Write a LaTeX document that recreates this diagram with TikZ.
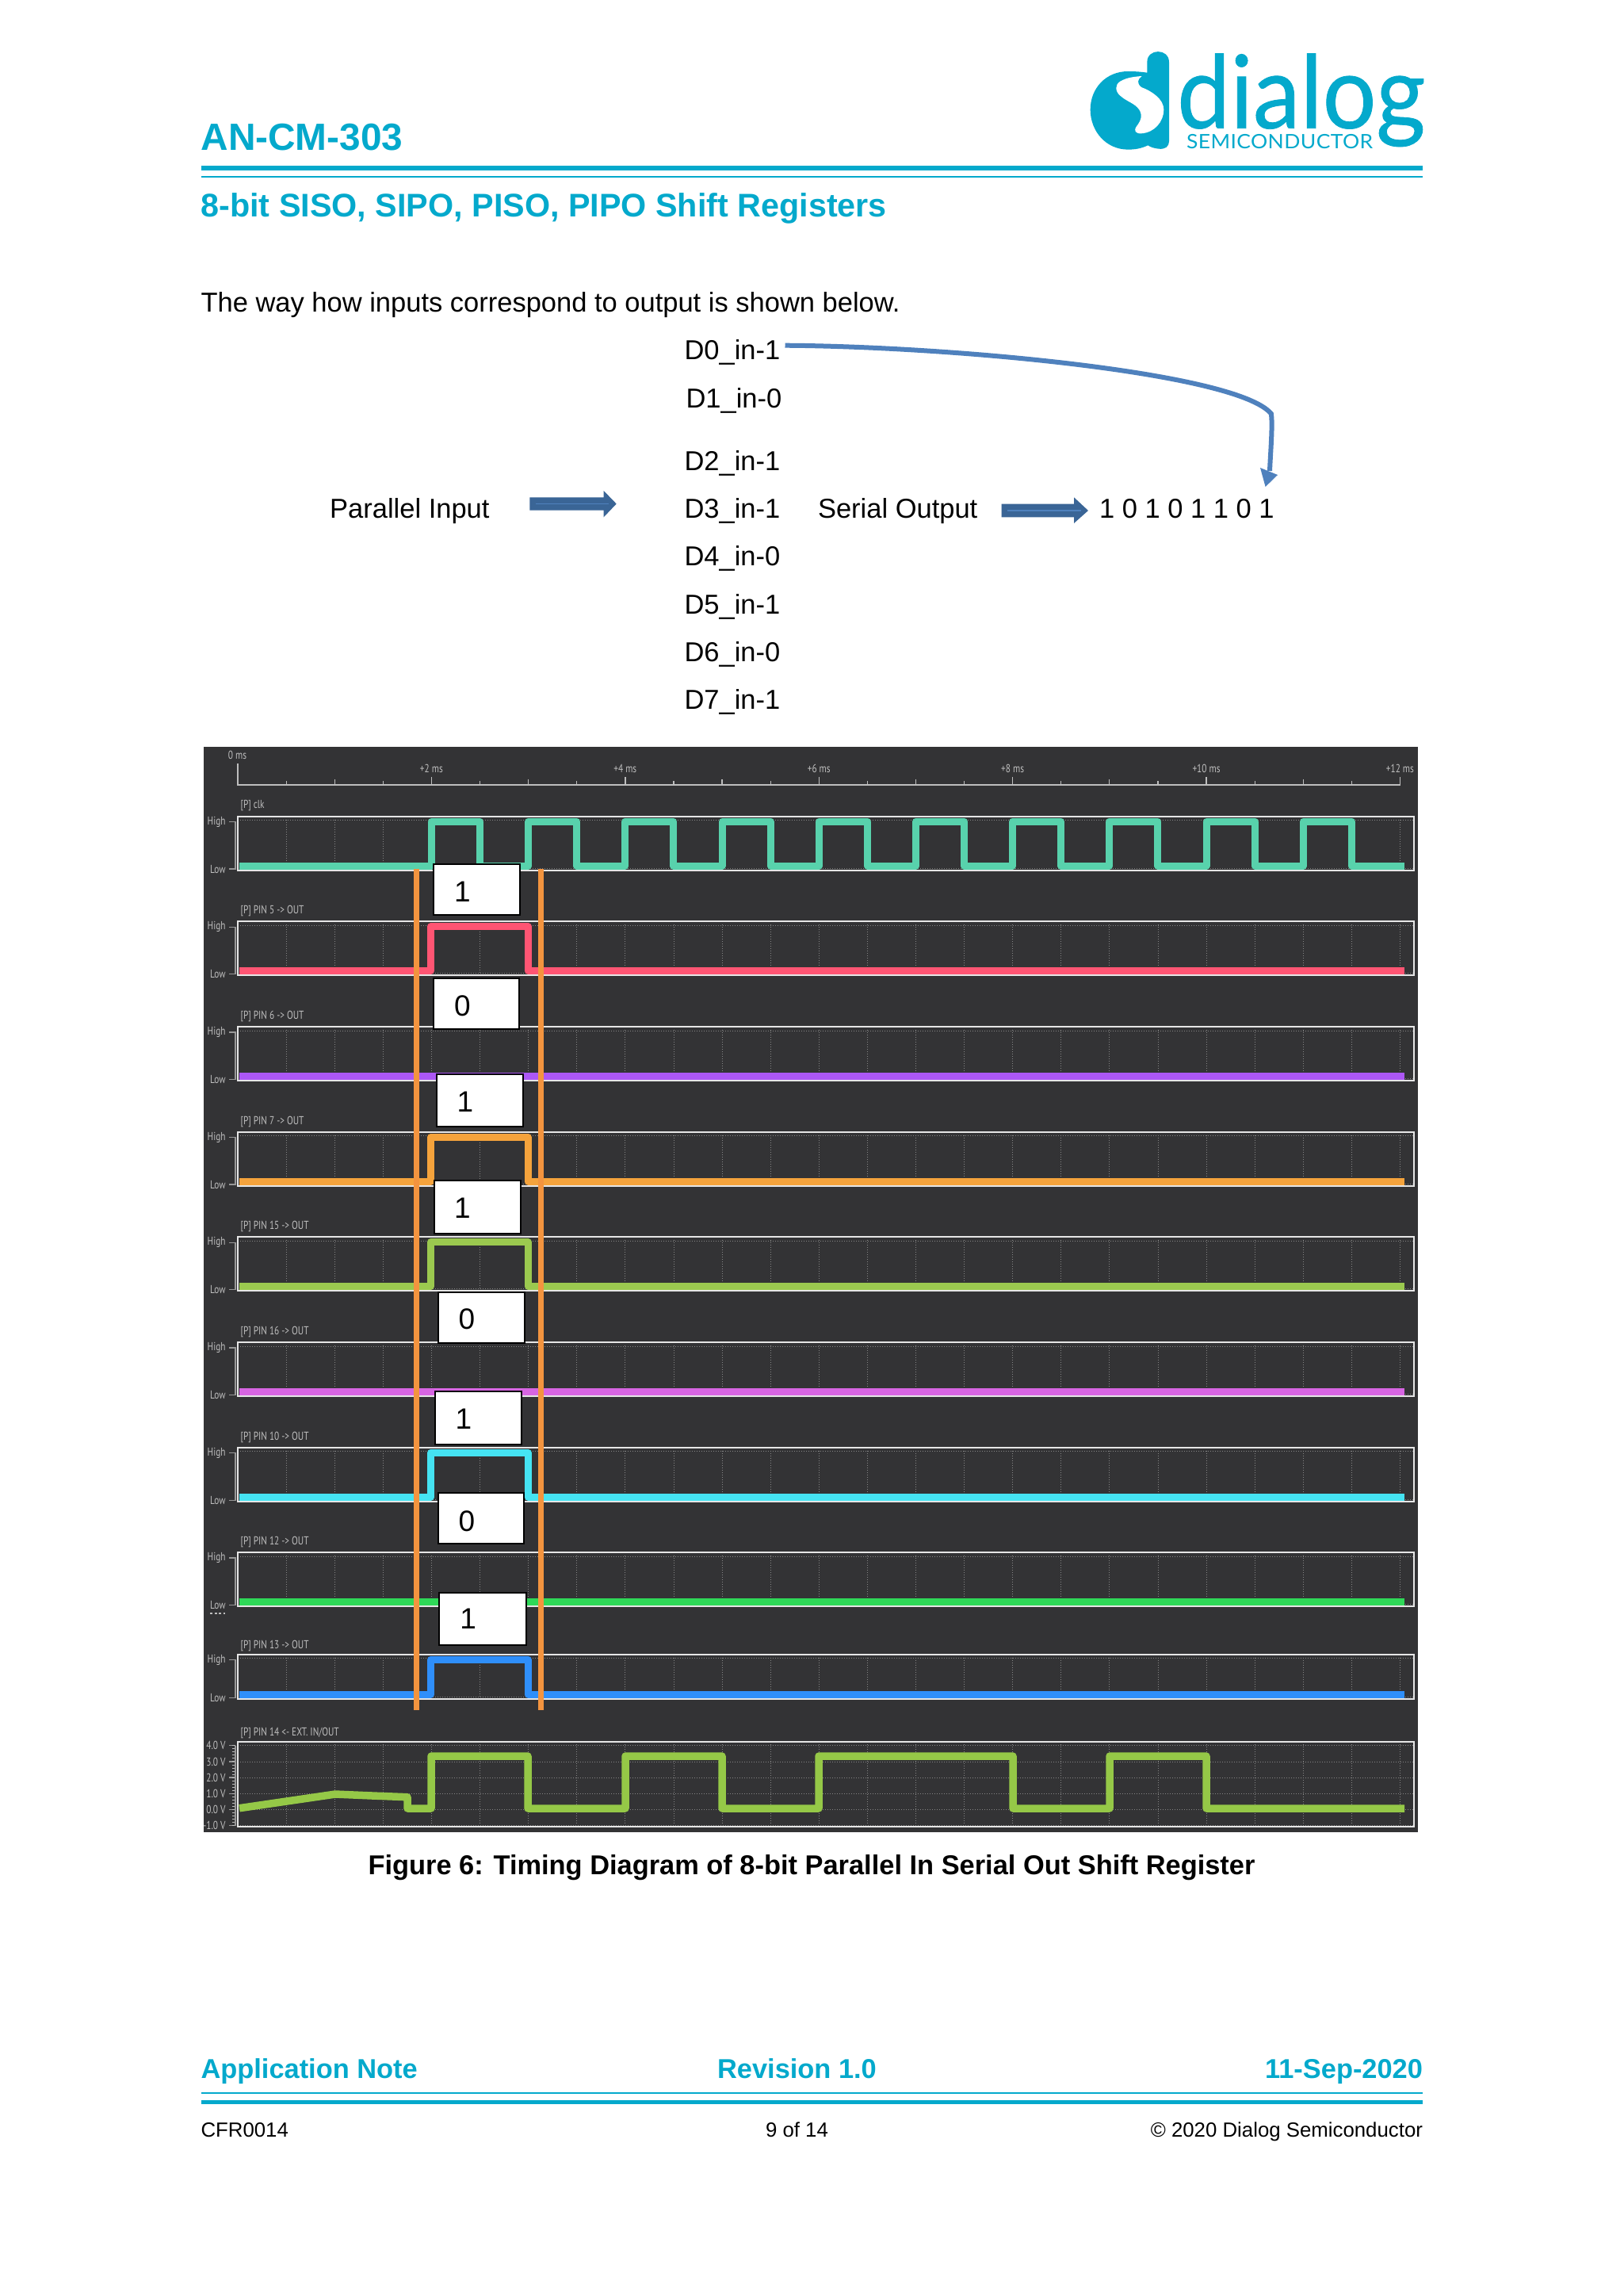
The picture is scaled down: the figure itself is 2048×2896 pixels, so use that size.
\documentclass[tikz,border=0pt]{standalone}
\usepackage{fontspec}
\setmainfont{Liberation Sans}
\newfontfamily\scopefont[FakeStretch=0.78]{PT Sans}
\newfontfamily\logofont[FakeStretch=0.935,FakeBold=0.6]{Lato}
\newfontfamily\logosmall[FakeStretch=1.06,LetterSpace=1.5]{Lato}
\newcommand\pxsize[1]{\fontsize{#1pt}{#1pt}\selectfont}
\definecolor{brand}{HTML}{04A9CC}
\definecolor{panelbg}{HTML}{333335}
\definecolor{labelgrey}{HTML}{BEBEBE}
\definecolor{framegrey}{HTML}{E6E6E6}
\definecolor{dotgrey}{HTML}{858585}
\definecolor{cClk}{HTML}{58D2AC}
\definecolor{cRed}{HTML}{FF5573}
\definecolor{cPurple}{HTML}{AC57F5}
\definecolor{cOrange}{HTML}{F5A33C}
\definecolor{cOlive}{HTML}{9BC94F}
\definecolor{cMagenta}{HTML}{D765E2}
\definecolor{cCyan}{HTML}{45E3F2}
\definecolor{cGreen}{HTML}{2FD858}
\definecolor{cBlue}{HTML}{2F8FFA}
\definecolor{cLime}{HTML}{95C847}
\definecolor{cursor}{HTML}{F3943F}
\definecolor{blockarrow}{HTML}{3A6596}
\definecolor{arrowblue}{HTML}{4F81BD}
\tikzset{
  x=1pt,y=-1pt,
  txt/.style={inner sep=0pt,outer sep=0pt,anchor=base west,text=black,font=\pxsize{34.5}},
  head/.style={inner sep=0pt,outer sep=0pt,anchor=base west,text=brand,font=\pxsize{34.4}\bfseries},
  small/.style={inner sep=0pt,outer sep=0pt,text=black,font=\pxsize{25.8}},
  scopetxt/.style={inner sep=0pt,outer sep=0pt,text=labelgrey,font=\scopefont\pxsize{14.5}},
  framerule/.style={draw=framegrey,line width=2pt},
  griddot/.style={draw=dotgrey,line width=0.8pt,dash pattern=on 1pt off 2pt},
  bracket/.style={draw=labelgrey!80!black,line width=1.3pt},
  trace/.style={line width=9pt,line join=round},
  cursorline/.style={draw=cursor,line width=7pt},
  valbox/.style={draw=black,fill=white,line width=2pt,inner sep=0pt},
  valtxt/.style={inner sep=0pt,text=black,font=\pxsize{37}},
}
% #1 id, #2 top, #3 height, #4 label, #5 label offset above the strip
\newcommand\signalstrip[5]{%
  \pgfmathsetmacro\stripBot{#2+#3}
  \pgfmathsetmacro\stripLow{#2+#3-1.5}
  \pgfmathsetmacro\stripHigh{#2+7}
  \node[scopetxt,anchor=west] (lab#1) at (303.6,#2-#5) {#4};
  \node[scopetxt,anchor=east] (hi#1) at (284.6,\stripHigh) {High};
  \node[scopetxt,anchor=east] (lo#1) at (284.6,\stripLow) {Low};
  \draw[griddot] (300,#2+5) -- (1784,#2+5);
  \draw[griddot] (300,\stripBot-2.5) -- (1784,\stripBot-2.5);
  \foreach \k in {1,...,24}{\draw[griddot] ({300+61.1*\k},#2+4) -- ({300+61.1*\k},\stripBot-3);}
  \draw[bracket] (289,\stripHigh) -- (297,\stripHigh) -- (297,\stripLow) -- (289,\stripLow);
  \draw[framerule] (300,#2) rectangle (1784,\stripBot);
}
% #1 top, #2 height, #3 colour
\newcommand\flattrace[3]{\draw[trace,#3] (302,#1+#2-5.5) -- (1772,#1+#2-5.5);}
\newcommand\pulsetrace[3]{\draw[trace,#3] (302,#1+#2-5.5) -- (543.5,#1+#2-5.5) -- (543.5,#1+6.5) -- (666,#1+6.5) -- (666,#1+#2-5.5) -- (1772,#1+#2-5.5);}
% #1 id, #2 left, #3 top, #4 right, #5 bottom, #6 digit x, #7 digit y, #8 digit
\newcommand\valuebox[8]{%
  \node[valbox,minimum width={#4-#2},minimum height={#5-#3},anchor=north west] (box#1) at (#2,#3) {};
  \node[valtxt] (digit#1) at (#6,#7) {#8};
}
\begin{document}
\begin{tikzpicture}
\useasboundingbox (0,0) rectangle (2048,2896);
\fill[white] (0,0) rectangle (2048,2896);
% header
\node[head,font=\pxsize{47.8}\bfseries] (title) at (253.5,189) {AN-CM-303};
\node[head,font=\pxsize{41.3}\bfseries] (subtitle) at (253.5,273.5) {8-bit SISO, SIPO, PISO, PIPO Shift Registers};
\fill[brand] (253.5,209.3) rectangle (1795,214.7);
\fill[brand] (253.5,221.7) rectangle (1795,224.3);
% logo
\begin{scope}[shift={(1360,50)},x=0.3333pt,y=-0.3333pt]
\fill[brand] (262,125) -- (262,85) .. controls (262,32) and (345,32) .. (345,85) -- (345,385)
  .. controls (345,405) and (330,416) .. (305,413) .. controls (288,411) and (275,407) .. (265,400)
  .. controls (240,412) and (215,416) .. (190,416) .. controls (105,416) and (47,345) .. (47,265)
  .. controls (47,185) and (105,120) .. (190,120) .. controls (220,120) and (240,122) .. (262,125) -- cycle;
\fill[white] (242,138) .. controls (225,150) and (222,165) .. (240,180)
  .. controls (280,195) and (325,225) .. (325,265) .. controls (325,310) and (290,352) .. (240,355)
  .. controls (218,356) and (210,345) .. (222,328) .. controls (240,305) and (245,285) .. (232,265)
  .. controls (215,240) and (185,235) .. (160,212) .. controls (140,195) and (140,170) .. (160,158)
  .. controls (185,143) and (215,140) .. (242,138) -- cycle;
\end{scope}
\node[inner sep=0pt,anchor=base west,text=brand,font=\logofont\pxsize{128}] (logoword) at (1485,161.7) {dialog};
\node[inner sep=0pt,anchor=base west,text=brand,font=\logosmall\pxsize{25}] (logosub) at (1497,187.7) {SEMICONDUCTOR};
% body
\node[txt] (intro) at (253.5,393.5) {The way how inputs correspond to output is shown below.};
\node[txt] (d0) at (863.5,453.3) {D0\_in-1};
\node[txt] (d1) at (865.5,514) {D1\_in-0};
\node[txt] (d2) at (863.5,593) {D2\_in-1};
\node[txt] (d3) at (863.5,653.6) {D3\_in-1};
\node[txt] (d4) at (863.5,713.8) {D4\_in-0};
\node[txt] (d5) at (863.5,774) {D5\_in-1};
\node[txt] (d6) at (863.5,834.3) {D6\_in-0};
\node[txt] (d7) at (863.5,894.3) {D7\_in-1};
\node[txt] (parin) at (416.2,653) {Parallel Input};
\node[txt] (serout) at (1032,653) {Serial Output};
\node[txt] (bits) at (1387,653) {1 0 1 0 1 1 0 1};
% block arrows
\fill[blockarrow] (668.3,627.3) -- (761.7,627.3) -- (761.7,619) -- (777.7,635.5) -- (761.7,652.3) -- (761.7,643.5) -- (668.3,643.5) -- cycle;
\draw[arrowblue,line width=1.5pt] (676,635.5) -- (768,635.5);
\fill[blockarrow] (1263.5,635.7) -- (1355,635.7) -- (1355,627.3) -- (1373,644) -- (1355,660) -- (1355,652.3) -- (1263.5,652.3) -- cycle;
\draw[arrowblue,line width=1.5pt] (1271,644) -- (1364,644);
% curved arrow
\coordinate (curveStart) at (990.5,435.7);
\coordinate (curveBend) at (1603.8,521.7);
\coordinate (curveEnd) at (1602,594);
\draw[arrowblue,line width=6pt] (curveStart) .. controls (1200,437) and (1560,470) .. (curveBend) .. controls (1606,535) and (1603,570) .. (curveEnd);
\fill[arrowblue] (1590,590) -- (1612,599) -- (1596.6,614) -- cycle;
% panel
\fill[panelbg] (257,942) rectangle (1789,2310.7);
\node[scopetxt,anchor=center] (t0) at (299.5,952.7) {0 ms};
\foreach \t in {2,4,...,12}{
  \node[scopetxt,anchor=center] (tlab\t) at ({300+122.2*\t},969) {+\t\ ms};
  \draw[labelgrey,line width=1.4pt] ({300+122.2*\t},980) -- ({300+122.2*\t},990);
}
\draw[labelgrey,line width=1.4pt] (300,963) -- (300,990) -- (1767,990);
\foreach \k in {1,3,...,23}{\draw[labelgrey,line width=1.2pt] ({300+61.1*\k},985) -- ({300+61.1*\k},990);}
\foreach \k in {2,6,10,14,18,22}{\draw[labelgrey,line width=1.2pt] ({300+61.1*\k},982.5) -- ({300+61.1*\k},990);}
% strips
\signalstrip{clk}{1029.5}{68}{[P] clk}{13}
\signalstrip{p5}{1162.2}{68}{[P] PIN 5 -> OUT}{13}
\signalstrip{p6}{1294.9}{68}{[P] PIN 6 -> OUT}{13}
\signalstrip{p7}{1427.6}{68}{[P] PIN 7 -> OUT}{13}
\signalstrip{p15}{1560.3}{68}{[P] PIN 15 -> OUT}{13}
\signalstrip{p16}{1693}{68}{[P] PIN 16 -> OUT}{13}
\signalstrip{p10}{1825.7}{68}{[P] PIN 10 -> OUT}{13}
\signalstrip{p12}{1957.9}{68}{[P] PIN 12 -> OUT}{13}
\draw[labelgrey,line width=1.5pt,dash pattern=on 3pt off 2.5pt] (265,2035) -- (284,2035);
\signalstrip{p13}{2086.7}{56}{[P] PIN 13 -> OUT}{11}
% traces
\draw[trace,cClk] (302,1092) \foreach \k in {2,...,11}{ -- ({300+122.2*\k},1092) -- ({300+122.2*\k},1036) -- ({361.1+122.2*\k},1036) -- ({361.1+122.2*\k},1092)} -- (1772,1092);
\pulsetrace{1162.2}{68}{cRed}
\flattrace{1294.9}{68}{cPurple}
\pulsetrace{1427.6}{68}{cOrange}
\pulsetrace{1560.3}{68}{cOlive}
\flattrace{1693}{68}{cMagenta}
\pulsetrace{1825.7}{68}{cCyan}
\flattrace{1957.9}{68}{cGreen}
\pulsetrace{2086.7}{56}{cBlue}
% analog strip
\node[scopetxt,anchor=west] (labp14) at (303.6,2185.5) {[P] PIN 14 <- EXT. IN/OUT};
\foreach \v/\y in {4.0/2201.7,3.0/2221.9,2.0/2242.1,1.0/2262.3,0.0/2282.5,-1.0/2302.7}{
  \node[scopetxt,anchor=east] (v\y) at (284.6,\y) {\v\ V};
  \draw[griddot] (300,\y) -- (1784,\y);
  \draw[bracket] (289,\y) -- (297,\y);
}
\foreach \k in {0,...,24}{\draw[griddot] ({300+61.1*\k},2200) -- ({300+61.1*\k},2302);}
\foreach \k in {0,...,25}{\draw[labelgrey,line width=0.9pt] (293,{2201.7+4.04*\k}) -- (297,{2201.7+4.04*\k});}
\draw[bracket] (297,2201.7) -- (297,2302.7);
\draw[framerule] (300,2196.7) rectangle (1784,2304);
\draw[trace,cLime,line width=9.5pt] (302,2280.7) -- (423,2263) -- (470,2265) -- (514,2266.7) -- (514,2281) -- (544,2281) -- (544,2215) -- (666,2215) -- (666,2281) -- (789,2281) -- (789,2215) -- (911,2215) -- (911,2281) -- (1033,2281) -- (1033,2215) -- (1278,2215) -- (1278,2281) -- (1400,2281) -- (1400,2215) -- (1522,2215) -- (1522,2281) -- (1772,2281);
% cursors
\coordinate (curA1) at (525.7,1095.7);
\coordinate (curA2) at (525.7,2156.7);
\coordinate (curB1) at (682.5,1095.7);
\coordinate (curB2) at (682.5,2156.7);
\draw[cursorline] (curA1) -- (curA2);
\draw[cursorline] (curB1) -- (curB2);
% value boxes
\valuebox{a}{546.4}{1089}{655}{1152.7}{583.5}{1124.6}{1}
\valuebox{b}{546.4}{1233}{654}{1297}{583.5}{1268.7}{0}
\valuebox{c}{550}{1354}{659}{1420}{587}{1390}{1}
\valuebox{d}{546.6}{1488}{655.6}{1555}{583.5}{1523.5}{1}
\valuebox{e}{552}{1629}{661}{1693}{589}{1664}{0}
\valuebox{f}{548}{1754}{657}{1821}{585}{1789.5}{1}
\valuebox{g}{552}{1882}{660}{1946}{589}{1918.7}{0}
\valuebox{h}{552.7}{2008}{662.7}{2074}{590.7}{2041.7}{1}
% caption
\node[txt,anchor=base,font=\pxsize{34.4}\bfseries] (caption) at (1024,2364) {Figure 6: Timing Diagram of 8-bit Parallel In Serial Out Shift Register};
% footer
\node[head] (fa) at (253.5,2621.7) {Application Note};
\node[head,anchor=base] (fb) at (1005.5,2621.7) {Revision 1.0};
\node[head,anchor=base east] (fc) at (1795,2621.7) {11-Sep-2020};
\fill[brand] (253.5,2638.7) rectangle (1795,2641.4);
\fill[brand] (253.5,2648.5) rectangle (1795,2654);
\node[small,anchor=base west] (fd) at (253.5,2695) {CFR0014};
\node[small,anchor=base] (fe) at (1005.5,2695) {9 of 14};
\node[small,anchor=base east] (ff) at (1795,2695) {© 2020 Dialog Semiconductor};
\end{tikzpicture}
\end{document}
